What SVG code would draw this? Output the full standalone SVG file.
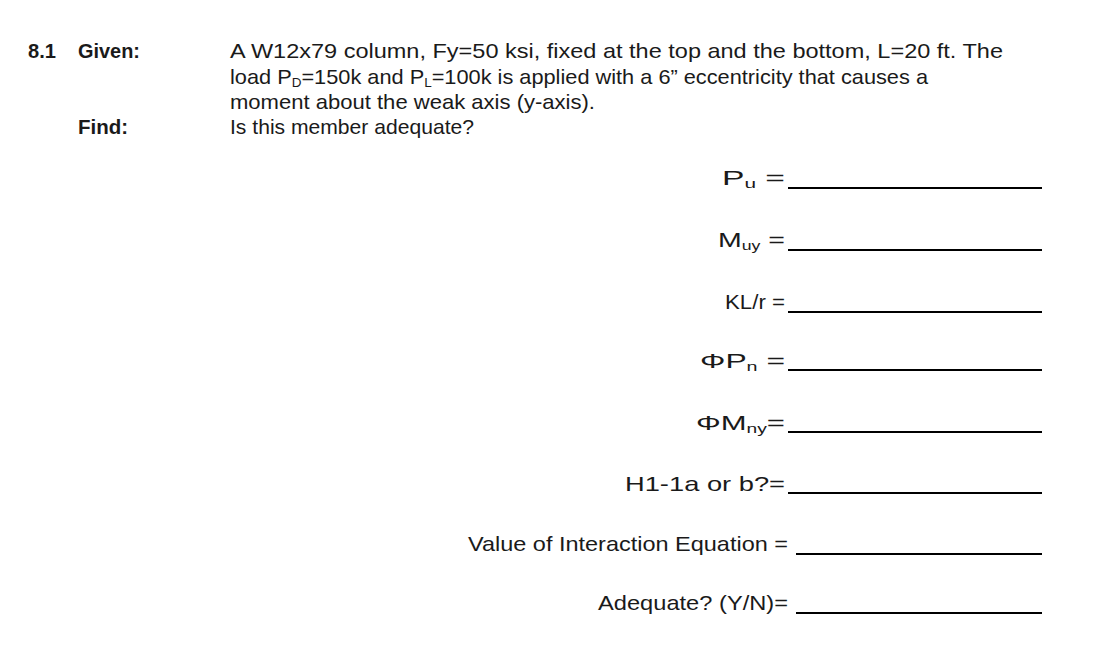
<svg xmlns="http://www.w3.org/2000/svg" width="1104" height="666" viewBox="0 0 1104 666">
<style>
text{font-family:"Liberation Sans",Arial,sans-serif;font-size:21px;fill:#1a1a1a}
.b{font-weight:bold}
.s{font-size:13px}
.r{text-anchor:end}
line{stroke:#000;stroke-width:2}
</style>
<rect width="1104" height="666" fill="#fff"/>
<g id="header">
<text x="28" y="58" class="b" textLength="28" lengthAdjust="spacingAndGlyphs">8.1</text>
<text x="78" y="58" class="b" textLength="62" lengthAdjust="spacingAndGlyphs">Given:</text>
<text x="230" y="58" textLength="773" lengthAdjust="spacingAndGlyphs">A W12x79 column, Fy=50 ksi, fixed at the top and the bottom, L=20 ft.  The</text>
<text x="230" y="84" textLength="698" lengthAdjust="spacingAndGlyphs">load P<tspan class="s" dy="3">D</tspan><tspan dy="-3">=150k and P</tspan><tspan class="s" dy="3">L</tspan><tspan dy="-3">=100k is applied with a 6” eccentricity that causes a</tspan></text>
<text x="230" y="109" textLength="365" lengthAdjust="spacingAndGlyphs">moment about the weak axis (y-axis).</text>
<text x="78" y="134" class="b" textLength="50" lengthAdjust="spacingAndGlyphs">Find:</text>
<text x="230" y="134" textLength="244" lengthAdjust="spacingAndGlyphs">Is this member adequate?</text>
</g>
<g id="fields">
<text x="785" y="185" class="r" textLength="63" lengthAdjust="spacingAndGlyphs">P<tspan class="s" dy="3">u</tspan><tspan dy="-3">  =</tspan></text>
<text x="785" y="247" class="r" textLength="67" lengthAdjust="spacingAndGlyphs">M<tspan class="s" dy="3">uy</tspan><tspan dy="-3">  =</tspan></text>
<text x="785" y="309" class="r" textLength="60" lengthAdjust="spacingAndGlyphs">KL/r =</text>
<text x="785" y="368" class="r" textLength="85" lengthAdjust="spacingAndGlyphs">ΦP<tspan class="s" dy="3">n</tspan><tspan dy="-3">  =</tspan></text>
<text x="785" y="430" class="r" textLength="89" lengthAdjust="spacingAndGlyphs">ΦM<tspan class="s" dy="3">ny</tspan><tspan dy="-3">=</tspan></text>
<text x="785" y="491" class="r" textLength="160" lengthAdjust="spacingAndGlyphs">H1-1a or b?=</text>
<text x="788" y="551" class="r" textLength="320" lengthAdjust="spacingAndGlyphs">Value of Interaction Equation =</text>
<text x="788" y="610" class="r" textLength="190" lengthAdjust="spacingAndGlyphs">Adequate? (Y/N)=</text>
</g>
<g id="lines">
<line x1="788" y1="188" x2="1042" y2="188"/>
<line x1="788" y1="250" x2="1042" y2="250"/>
<line x1="788" y1="312" x2="1042" y2="312"/>
<line x1="788" y1="370" x2="1042" y2="370"/>
<line x1="788" y1="432" x2="1042" y2="432"/>
<line x1="788" y1="493" x2="1042" y2="493"/>
<line x1="796" y1="554" x2="1042" y2="554"/>
<line x1="796" y1="613" x2="1042" y2="613"/>
</g>
</svg>
